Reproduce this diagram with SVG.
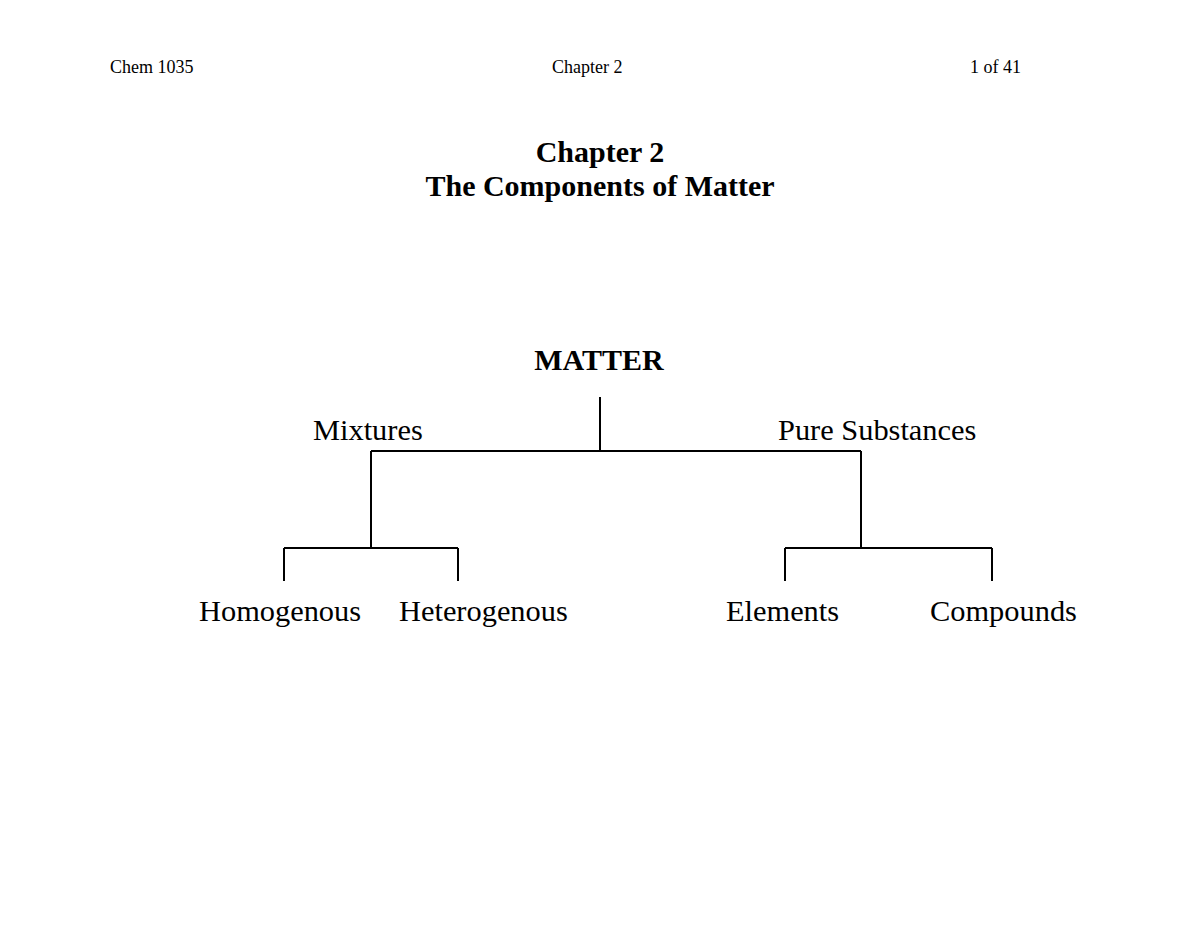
<svg xmlns="http://www.w3.org/2000/svg" width="1200" height="927" viewBox="0 0 1200 927">
<style>
text{font-family:"Liberation Serif","Times New Roman",serif;fill:#000}
.hdr{font-size:18px}
.ttl{font-size:30px;font-weight:bold}
.lbl{font-size:30.4px}
.conn{stroke:#000;stroke-width:2;fill:none}
</style>
<rect width="1200" height="927" fill="#fff"/>
<g id="header">
<text class="hdr" x="110" y="73">Chem 1035</text>
<text class="hdr" x="552" y="73">Chapter 2</text>
<text class="hdr" x="970" y="73">1 of 41</text>
</g>
<g id="title">
<text class="ttl" x="600" y="162" text-anchor="middle">Chapter 2</text>
<text class="ttl" x="600" y="196" text-anchor="middle">The Components of Matter</text>
</g>
<g id="connectors">
<path class="conn" d="M600,397V451M371,451H861M371,451V548M861,451V548M284,548H458M284,548V581M458,548V581M785,548H992M785,548V581M992,548V581"/>
</g>
<g id="matter"><text class="ttl" x="599" y="370" text-anchor="middle">MATTER</text></g>
<g id="mixtures"><text class="lbl" x="313" y="440">Mixtures</text></g>
<g id="pure-substances"><text class="lbl" x="778" y="440">Pure Substances</text></g>
<g id="homogenous"><text class="lbl" x="199" y="621">Homogenous</text></g>
<g id="heterogenous"><text class="lbl" x="399" y="621">Heterogenous</text></g>
<g id="elements"><text class="lbl" x="726" y="621">Elements</text></g>
<g id="compounds"><text class="lbl" x="930" y="621">Compounds</text></g>
</svg>
